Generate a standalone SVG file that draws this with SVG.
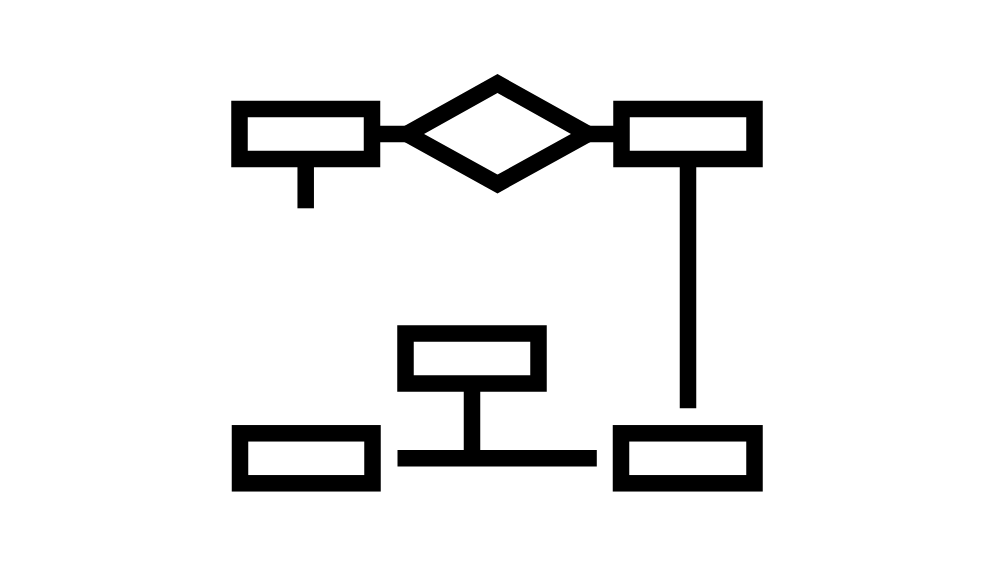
<svg xmlns="http://www.w3.org/2000/svg" width="1000" height="563" viewBox="0 0 1000 563">
<style>
.s{fill:none;stroke:#000;stroke-width:16.5;stroke-linecap:butt;stroke-linejoin:miter;stroke-miterlimit:10}
</style>
<rect x="0" y="0" width="1000" height="563" fill="#fff"/>
<g id="connectors">
<line class="s" x1="372" y1="134" x2="407" y2="134"/>
<line class="s" x1="588" y1="134" x2="622" y2="134"/>
<line class="s" x1="305.7" y1="159" x2="305.7" y2="208.3"/>
<line class="s" x1="688" y1="159" x2="688" y2="408.3"/>
<line class="s" x1="472" y1="383.5" x2="472" y2="458"/>
<line class="s" x1="397.5" y1="458.3" x2="596.8" y2="458.3"/>
</g>
<g id="entity-top-left"><rect class="s" x="239.5" y="109" width="132.5" height="50"/></g>
<g id="relationship"><polygon class="s" points="407,134 497.5,83.5 588,134 497.5,184"/></g>
<g id="entity-top-right"><rect class="s" x="621.5" y="109" width="133" height="50"/></g>
<g id="entity-center"><rect class="s" x="405.5" y="333.5" width="133" height="50"/></g>
<g id="entity-bottom-left"><rect class="s" x="240" y="433.3" width="132.5" height="50"/></g>
<g id="entity-bottom-right"><rect class="s" x="621" y="433.3" width="133.5" height="50"/></g>
</svg>
